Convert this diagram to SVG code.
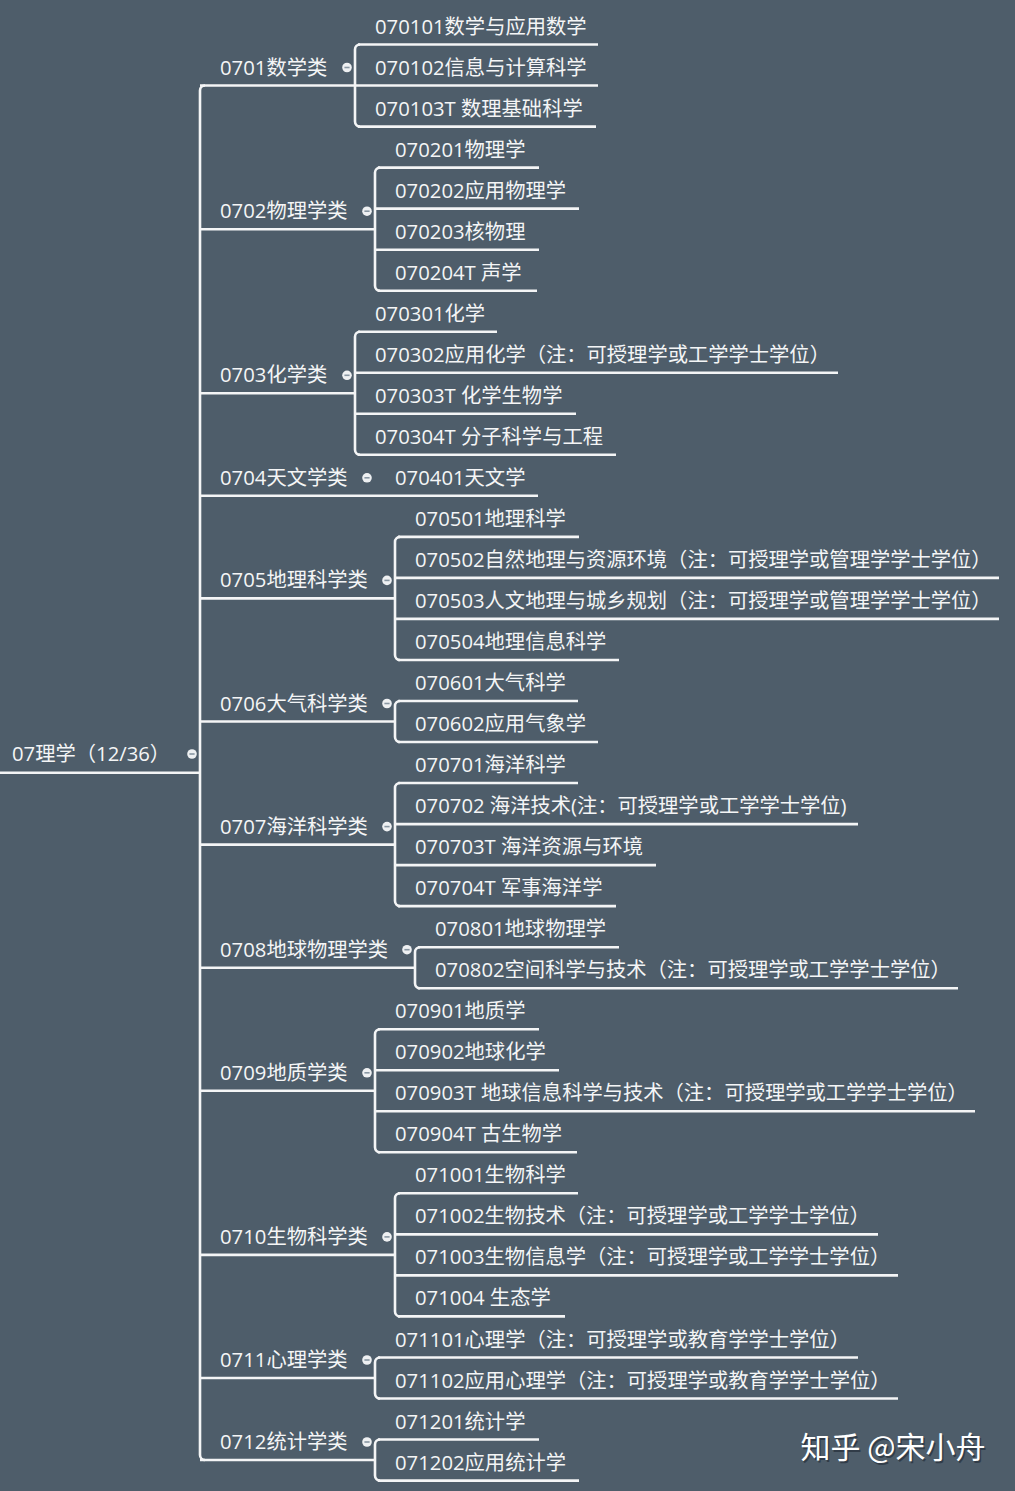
<svg xmlns="http://www.w3.org/2000/svg" width="1015" height="1491" viewBox="0 0 1015 1491">
<defs>
<style>
.t{font-family:"Open Sans","Noto Sans CJK SC",sans-serif;font-size:20.3px;fill:#f4f5f6;}
.u{fill:none;stroke:#f4f5f6;stroke-width:2.6;stroke-linecap:butt;stroke-linejoin:round;}
.c{fill:none;stroke:#f4f5f6;stroke-width:2.6;stroke-linejoin:round;}
.wm{font-family:"Noto Sans CJK SC",sans-serif;font-size:30px;}
</style>
<g id="tog">
<circle r="4.8" fill="#eef0f2"/>
<line x1="-2.6" y1="0" x2="2.6" y2="0" stroke="#8896a2" stroke-width="1.6"/>
</g>
</defs>
<rect width="1015" height="1491" fill="#4e5d6a"/>

<g id="connectors">
<path class="c" d="M205,85.5 A5,5 0 0 0 200,90.5 V1455 A5,5 0 0 0 205,1460"/>
<path class="c" d="M360,44.5 A5,5 0 0 0 355,49.5 V121.6 A5,5 0 0 0 360,126.6"/>
<path class="c" d="M380,167.6 A5,5 0 0 0 375,172.6 V285.7 A5,5 0 0 0 380,290.7"/>
<path class="c" d="M360,331.7 A5,5 0 0 0 355,336.7 V449.8 A5,5 0 0 0 360,454.8"/>
<path class="c" d="M400,536.9 A5,5 0 0 0 395,541.9 V655 A5,5 0 0 0 400,660"/>
<path class="c" d="M400,701 A5,5 0 0 0 395,706 V737 A5,5 0 0 0 400,742"/>
<path class="c" d="M400,783 A5,5 0 0 0 395,788 V901.1 A5,5 0 0 0 400,906.1"/>
<path class="c" d="M420,947.2 A5,5 0 0 0 415,952.2 V983.2 A5,5 0 0 0 420,988.2"/>
<path class="c" d="M380,1029.2 A5,5 0 0 0 375,1034.2 V1147.3 A5,5 0 0 0 380,1152.3"/>
<path class="c" d="M400,1193.3 A5,5 0 0 0 395,1198.3 V1311.4 A5,5 0 0 0 400,1316.4"/>
<path class="c" d="M380,1357.5 A5,5 0 0 0 375,1362.5 V1393.5 A5,5 0 0 0 380,1398.5"/>
<path class="c" d="M380,1439.5 A5,5 0 0 0 375,1444.5 V1475.6 A5,5 0 0 0 380,1480.6"/>
</g>

<g id="n07">
<text class="t" x="12" y="761">07理学（12/36）</text>
<line class="u" x1="0" y1="772.8" x2="200" y2="772.8"/>
<use href="#tog" x="192" y="754"/>
</g>

<g id="n0701">
<text class="t" x="220" y="74.5">0701数学类</text>
<line class="u" x1="200" y1="85.5" x2="355" y2="85.5"/>
<use href="#tog" x="347" y="67.5"/>
</g>
<g id="n070101"><text class="t" x="375" y="33.5">070101数学与应用数学</text><line class="u" x1="358" y1="44.5" x2="598" y2="44.5"/></g>
<g id="n070102"><text class="t" x="375" y="74.5">070102信息与计算科学</text><line class="u" x1="355" y1="85.5" x2="598" y2="85.5"/></g>
<g id="n070103"><text class="t" x="375" y="115.6">070103T 数理基础科学</text><line class="u" x1="358" y1="126.6" x2="596" y2="126.6"/></g>

<g id="n0702">
<text class="t" x="220" y="218.2">0702物理学类</text>
<line class="u" x1="200" y1="229.2" x2="375" y2="229.2"/>
<use href="#tog" x="367" y="211.2"/>
</g>
<g id="n070201"><text class="t" x="395" y="156.6">070201物理学</text><line class="u" x1="378" y1="167.6" x2="539" y2="167.6"/></g>
<g id="n070202"><text class="t" x="395" y="197.6">070202应用物理学</text><line class="u" x1="375" y1="208.6" x2="579" y2="208.6"/></g>
<g id="n070203"><text class="t" x="395" y="238.7">070203核物理</text><line class="u" x1="375" y1="249.7" x2="539" y2="249.7"/></g>
<g id="n070204"><text class="t" x="395" y="279.7">070204T 声学</text><line class="u" x1="378" y1="290.7" x2="537" y2="290.7"/></g>

<g id="n0703">
<text class="t" x="220" y="382.3">0703化学类</text>
<line class="u" x1="200" y1="393.3" x2="355" y2="393.3"/>
<use href="#tog" x="347" y="375.3"/>
</g>
<g id="n070301"><text class="t" x="375" y="320.7">070301化学</text><line class="u" x1="358" y1="331.7" x2="497" y2="331.7"/></g>
<g id="n070302"><text class="t" x="375" y="361.7">070302应用化学（注：可授理学或工学学士学位）</text><line class="u" x1="355" y1="372.7" x2="838" y2="372.7"/></g>
<g id="n070303"><text class="t" x="375" y="402.8">070303T 化学生物学</text><line class="u" x1="355" y1="413.8" x2="576" y2="413.8"/></g>
<g id="n070304"><text class="t" x="375" y="443.8">070304T 分子科学与工程</text><line class="u" x1="358" y1="454.8" x2="616" y2="454.8"/></g>

<g id="n0704">
<text class="t" x="220" y="484.8">0704天文学类</text>
<line class="u" x1="200" y1="495.8" x2="375" y2="495.8"/>
<use href="#tog" x="367" y="477.8"/>
</g>
<g id="n070401"><text class="t" x="395" y="484.8">070401天文学</text><line class="u" x1="375" y1="495.8" x2="538" y2="495.8"/></g>

<g id="n0705">
<text class="t" x="220" y="587.4">0705地理科学类</text>
<line class="u" x1="200" y1="598.4" x2="395" y2="598.4"/>
<use href="#tog" x="387" y="580.4"/>
</g>
<g id="n070501"><text class="t" x="415" y="525.9">070501地理科学</text><line class="u" x1="398" y1="536.9" x2="579" y2="536.9"/></g>
<g id="n070502"><text class="t" x="415" y="566.9">070502自然地理与资源环境（注：可授理学或管理学学士学位）</text><line class="u" x1="395" y1="577.9" x2="999" y2="577.9"/></g>
<g id="n070503"><text class="t" x="415" y="607.9">070503人文地理与城乡规划（注：可授理学或管理学学士学位）</text><line class="u" x1="395" y1="618.9" x2="999" y2="618.9"/></g>
<g id="n070504"><text class="t" x="415" y="649">070504地理信息科学</text><line class="u" x1="398" y1="660" x2="619" y2="660"/></g>

<g id="n0706">
<text class="t" x="220" y="710.5">0706大气科学类</text>
<line class="u" x1="200" y1="721.5" x2="395" y2="721.5"/>
<use href="#tog" x="387" y="703.5"/>
</g>
<g id="n070601"><text class="t" x="415" y="690">070601大气科学</text><line class="u" x1="398" y1="701" x2="578" y2="701"/></g>
<g id="n070602"><text class="t" x="415" y="731">070602应用气象学</text><line class="u" x1="398" y1="742" x2="598" y2="742"/></g>

<g id="n0707">
<text class="t" x="220" y="833.6">0707海洋科学类</text>
<line class="u" x1="200" y1="844.6" x2="395" y2="844.6"/>
<use href="#tog" x="387" y="826.6"/>
</g>
<g id="n070701"><text class="t" x="415" y="772">070701海洋科学</text><line class="u" x1="398" y1="783" x2="578" y2="783"/></g>
<g id="n070702"><text class="t" x="415" y="813.1">070702 海洋技术(注：可授理学或工学学士学位)</text><line class="u" x1="395" y1="824.1" x2="858" y2="824.1"/></g>
<g id="n070703"><text class="t" x="415" y="854.1">070703T 海洋资源与环境</text><line class="u" x1="395" y1="865.1" x2="656" y2="865.1"/></g>
<g id="n070704"><text class="t" x="415" y="895.1">070704T 军事海洋学</text><line class="u" x1="398" y1="906.1" x2="616" y2="906.1"/></g>

<g id="n0708">
<text class="t" x="220" y="956.7">0708地球物理学类</text>
<line class="u" x1="200" y1="967.7" x2="415" y2="967.7"/>
<use href="#tog" x="407" y="949.7"/>
</g>
<g id="n070801"><text class="t" x="435" y="936.2">070801地球物理学</text><line class="u" x1="418" y1="947.2" x2="619" y2="947.2"/></g>
<g id="n070802"><text class="t" x="435" y="977.2">070802空间科学与技术（注：可授理学或工学学士学位）</text><line class="u" x1="418" y1="988.2" x2="958" y2="988.2"/></g>

<g id="n0709">
<text class="t" x="220" y="1079.8">0709地质学类</text>
<line class="u" x1="200" y1="1090.8" x2="375" y2="1090.8"/>
<use href="#tog" x="367" y="1072.8"/>
</g>
<g id="n070901"><text class="t" x="395" y="1018.2">070901地质学</text><line class="u" x1="378" y1="1029.2" x2="539" y2="1029.2"/></g>
<g id="n070902"><text class="t" x="395" y="1059.3">070902地球化学</text><line class="u" x1="375" y1="1070.3" x2="559" y2="1070.3"/></g>
<g id="n070903"><text class="t" x="395" y="1100.3">070903T 地球信息科学与技术（注：可授理学或工学学士学位）</text><line class="u" x1="375" y1="1111.3" x2="975" y2="1111.3"/></g>
<g id="n070904"><text class="t" x="395" y="1141.3">070904T 古生物学</text><line class="u" x1="378" y1="1152.3" x2="577" y2="1152.3"/></g>

<g id="n0710">
<text class="t" x="220" y="1243.9">0710生物科学类</text>
<line class="u" x1="200" y1="1254.9" x2="395" y2="1254.9"/>
<use href="#tog" x="387" y="1236.9"/>
</g>
<g id="n071001"><text class="t" x="415" y="1182.3">071001生物科学</text><line class="u" x1="398" y1="1193.3" x2="578" y2="1193.3"/></g>
<g id="n071002"><text class="t" x="415" y="1223.4">071002生物技术（注：可授理学或工学学士学位）</text><line class="u" x1="395" y1="1234.4" x2="878" y2="1234.4"/></g>
<g id="n071003"><text class="t" x="415" y="1264.4">071003生物信息学（注：可授理学或工学学士学位）</text><line class="u" x1="395" y1="1275.4" x2="898" y2="1275.4"/></g>
<g id="n071004"><text class="t" x="415" y="1305.4">071004 生态学</text><line class="u" x1="398" y1="1316.4" x2="565" y2="1316.4"/></g>

<g id="n0711">
<text class="t" x="220" y="1367">0711心理学类</text>
<line class="u" x1="200" y1="1378" x2="375" y2="1378"/>
<use href="#tog" x="367" y="1360"/>
</g>
<g id="n071101"><text class="t" x="395" y="1346.5">071101心理学（注：可授理学或教育学学士学位）</text><line class="u" x1="378" y1="1357.5" x2="858" y2="1357.5"/></g>
<g id="n071102"><text class="t" x="395" y="1387.5">071102应用心理学（注：可授理学或教育学学士学位）</text><line class="u" x1="378" y1="1398.5" x2="898" y2="1398.5"/></g>

<g id="n0712">
<text class="t" x="220" y="1449">0712统计学类</text>
<line class="u" x1="200" y1="1460" x2="375" y2="1460"/>
<use href="#tog" x="367" y="1442"/>
</g>
<g id="n071201"><text class="t" x="395" y="1428.5">071201统计学</text><line class="u" x1="378" y1="1439.5" x2="539" y2="1439.5"/></g>
<g id="n071202"><text class="t" x="395" y="1469.6">071202应用统计学</text><line class="u" x1="378" y1="1480.6" x2="579" y2="1480.6"/></g>

<g id="watermark">
<text class="wm" x="802" y="1459.5" fill="#2a3540" opacity="0.8">知乎 @宋小舟</text>
<text class="wm" x="800.5" y="1458" fill="#ffffff">知乎 @宋小舟</text>
</g>
</svg>
